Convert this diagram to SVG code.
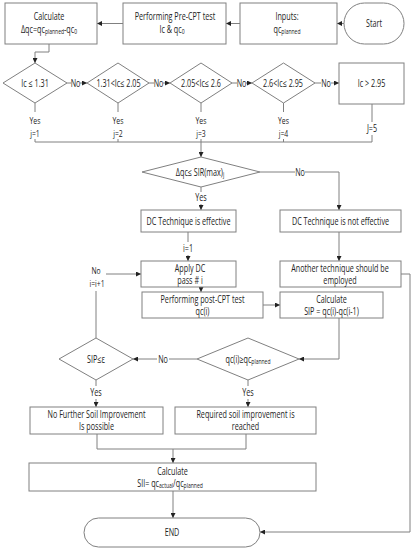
<svg xmlns="http://www.w3.org/2000/svg" width="415" height="550" viewBox="0 0 415 550">
<style>
.box{fill:#fff;stroke:#808080;stroke-width:1}
.ln{fill:none;stroke:#808080;stroke-width:1}
.ar{marker-end:url(#ah)}
text{font-family:"Open Sans","Liberation Sans",sans-serif;font-size:10px;fill:#222;text-anchor:middle}
.s{font-size:7px}
.sm{font-size:9.5px}
</style>
<defs>
<marker id="ah" markerUnits="userSpaceOnUse" markerWidth="5" markerHeight="5" refX="5" refY="2.5" orient="auto">
<path d="M0,0 L5,2.5 L0,5 z" fill="#222"/>
</marker>
</defs>
<rect width="415" height="550" fill="#fff"/>
<g id="connectors">
<path class="ln ar" d="M344,23.5 H337"/>
<path class="ln ar" d="M240,23.5 H226"/>
<path class="ln ar" d="M123,23.5 H97"/>
<path class="ln ar" d="M49,44 V52 H35 V63"/>
<path class="ln" d="M67,83 H71"/><path class="ln ar" d="M80,83 H87"/>
<path class="ln" d="M149,83 H154"/><path class="ln ar" d="M163,83 H170"/>
<path class="ln" d="M232,83 H237"/><path class="ln ar" d="M246,83 H252"/>
<path class="ln" d="M315,83 H321"/><path class="ln ar" d="M331,83 H339"/>
<path class="ln" d="M35,103 V112 M35,139 V142 M118,103 V112 M118,139 V142 M201,103 V112 M201,139 V142 M283.5,103 V112 M283.5,139 V142 M372,104 V122 M372,135 V142"/>
<path class="ln" d="M35,142 H372"/>
<path class="ln ar" d="M201,142 V157"/>
<path class="ln" d="M201,187 V192"/><path class="ln ar" d="M201,204 V210"/>
<path class="ln" d="M260,172 H295"/><path class="ln ar" d="M305,172 H339 V210"/>
<path class="ln" d="M188,232 V242"/><path class="ln ar" d="M188,255 V261"/>
<path class="ln ar" d="M339,232 V261"/>
<path class="ln ar" d="M201,287 V292"/>
<path class="ln ar" d="M263,305 H280"/>
<path class="ln ar" d="M339,318 V359 H299"/>
<path class="ln" d="M197,359 H169"/><path class="ln ar" d="M157,359 H133"/>
<path class="ln" d="M96,338 V291"/><path class="ln ar" d="M106,274 H141"/>
<path class="ln" d="M248,380 V386"/><path class="ln ar" d="M248,399 V407"/>
<path class="ln" d="M96,380 V386"/><path class="ln ar" d="M96,399 V407"/>
<path class="ln" d="M97,434 V449 H246 M246,434 V449"/>
<path class="ln ar" d="M173,449 V463"/>
<path class="ln ar" d="M173,491 V518"/>
<path class="ln ar" d="M401,274 H410 V532 H260"/>
<text transform="translate(75.5,86.5) scale(.72,1)">No</text>
<text transform="translate(158.5,86.5) scale(.72,1)">No</text>
<text transform="translate(241.5,86.5) scale(.72,1)">No</text>
<text transform="translate(326,86.5) scale(.72,1)">No</text>
<text class="sm" transform="translate(35,124) scale(.72,1)">Yes</text>
<text class="sm" transform="translate(35,136.5) scale(.72,1)">j=1</text>
<text class="sm" transform="translate(118,124) scale(.72,1)">Yes</text>
<text class="sm" transform="translate(118,136.5) scale(.72,1)">j=2</text>
<text class="sm" transform="translate(201,124) scale(.72,1)">Yes</text>
<text class="sm" transform="translate(201,136.5) scale(.72,1)">j=3</text>
<text class="sm" transform="translate(283.5,124) scale(.72,1)">Yes</text>
<text class="sm" transform="translate(283.5,136.5) scale(.72,1)">j=4</text>
<text transform="translate(372,131.5) scale(.72,1)">J=5</text>
<text transform="translate(201,201) scale(.72,1)">Yes</text>
<text transform="translate(300,175.5) scale(.72,1)">No</text>
<text transform="translate(188,252) scale(.72,1)">i=1</text>
<text transform="translate(163,362.5) scale(.72,1)">No</text>
<text class="sm" transform="translate(96,273.5) scale(.72,1)">No</text>
<text class="sm" transform="translate(97,287) scale(.72,1)">i=i+1</text>
<text transform="translate(248,396) scale(.72,1)">Yes</text>
<text transform="translate(96,396) scale(.72,1)">Yes</text>
</g>
<g id="start"><rect class="box" x="344" y="3" width="60" height="41" rx="20.5"/><text transform="translate(374,27) scale(.72,1)">Start</text></g>
<g id="inputs"><rect class="box" x="240" y="3" width="97" height="41"/><text transform="translate(287,20) scale(.72,1)">Inputs:</text><text transform="translate(287,33) scale(.72,1)">qc<tspan class="s" dy="1">planned</tspan></text></g>
<g id="precpt"><rect class="box" x="123" y="3" width="103" height="41"/><text transform="translate(175,20) scale(.72,1)">Performing Pre-CPT test</text><text transform="translate(172,33) scale(.72,1)">Ic &amp; qc<tspan class="s" dy="1">0</tspan></text></g>
<g id="calc1"><rect class="box" x="5" y="3" width="92" height="41"/><text transform="translate(49,20) scale(.72,1)">Calculate</text><text transform="translate(49,33) scale(.72,1)">Δqc=qc<tspan class="s" dy="1">planned</tspan><tspan dy="-1">-qc</tspan><tspan class="s" dy="1">0</tspan></text></g>
<g id="d1"><polygon class="box" points="3,83 35,63 67,83 35,103"/><text transform="translate(35,86.5) scale(.72,1)">Ic ≤ 1.31</text></g>
<g id="d2"><polygon class="box" points="87,83 118,63 149,83 118,103"/><text transform="translate(118.5,86.5) scale(.72,1)">1.31&lt;Ic≤ 2.05</text></g>
<g id="d3"><polygon class="box" points="170,83 201,63 232,83 201,103"/><text transform="translate(201,86.5) scale(.72,1)">2.05&lt;Ic≤ 2.6</text></g>
<g id="d4"><polygon class="box" points="252,83 283.5,63 315,83 283.5,103"/><text transform="translate(283,86.5) scale(.72,1)">2.6&lt;Ic≤ 2.95</text></g>
<g id="ic295"><rect class="box" x="339" y="63" width="65" height="41"/><text transform="translate(371.5,86.5) scale(.72,1)">Ic &gt; 2.95</text></g>
<g id="dsir"><polygon class="box" points="142,172 201,157 260,172 201,187"/><text transform="translate(200,175.5) scale(.72,1)">Δqc≤ SIR(max)<tspan class="s" dy="1">j</tspan></text></g>
<g id="dceff"><rect class="box" x="141" y="210" width="95" height="22"/><text transform="translate(188.5,224.5) scale(.72,1)">DC Technique is effective</text></g>
<g id="dcnot"><rect class="box" x="280" y="210" width="121" height="22"/><text transform="translate(340.5,224.5) scale(.72,1)">DC Technique is not effective</text></g>
<g id="apply"><rect class="box" x="141" y="261" width="95" height="26"/><text transform="translate(190,272) scale(.72,1)">Apply DC</text><text transform="translate(190,284) scale(.72,1)">pass # i</text></g>
<g id="another"><rect class="box" x="280" y="261" width="121" height="26"/><text transform="translate(340,272) scale(.72,1)">Another technique should be</text><text transform="translate(340,284) scale(.72,1)">employed</text></g>
<g id="postcpt"><rect class="box" x="142" y="292" width="121" height="26"/><text transform="translate(202.5,303) scale(.72,1)">Performing post-CPT test</text><text transform="translate(202.5,315) scale(.72,1)">qc(i)</text></g>
<g id="calcsip"><rect class="box" x="280" y="292" width="103" height="26"/><text transform="translate(331.5,303) scale(.72,1)">Calculate</text><text transform="translate(331.5,315) scale(.72,1)">SIP = qc(i)-qc(i-1)</text></g>
<g id="dqc"><polygon class="box" points="197,359 248,338 299,359 248,380"/><text transform="translate(248,362.5) scale(.72,1)">qc(i)≥qc<tspan class="s" dy="1">planned</tspan></text></g>
<g id="dsip"><polygon class="box" points="59,359 96,338 133,359 96,380"/><text transform="translate(96,362.5) scale(.72,1)">SIP≤ε</text></g>
<g id="nofurther"><rect class="box" x="30" y="407" width="133" height="27"/><text transform="translate(96.5,418) scale(.72,1)">No Further Soil Improvement</text><text transform="translate(96.5,430) scale(.72,1)">Is possible</text></g>
<g id="required"><rect class="box" x="175" y="407" width="141" height="27"/><text transform="translate(245.5,418) scale(.72,1)">Required soil improvement  is</text><text transform="translate(245.5,430) scale(.72,1)">reached</text></g>
<g id="calcsii"><rect class="box" x="29" y="463" width="287" height="28"/><text transform="translate(172.5,474.5) scale(.72,1)">Calculate</text><text transform="translate(170,487) scale(.72,1)">SII= qc<tspan class="s" dy="1">actual</tspan><tspan dy="-1">/qc</tspan><tspan class="s" dy="1">planned</tspan></text></g>
<g id="end"><rect class="box" x="84" y="518" width="176" height="29" rx="14.5"/><text transform="translate(172,536) scale(.72,1)">END</text></g>
</svg>
